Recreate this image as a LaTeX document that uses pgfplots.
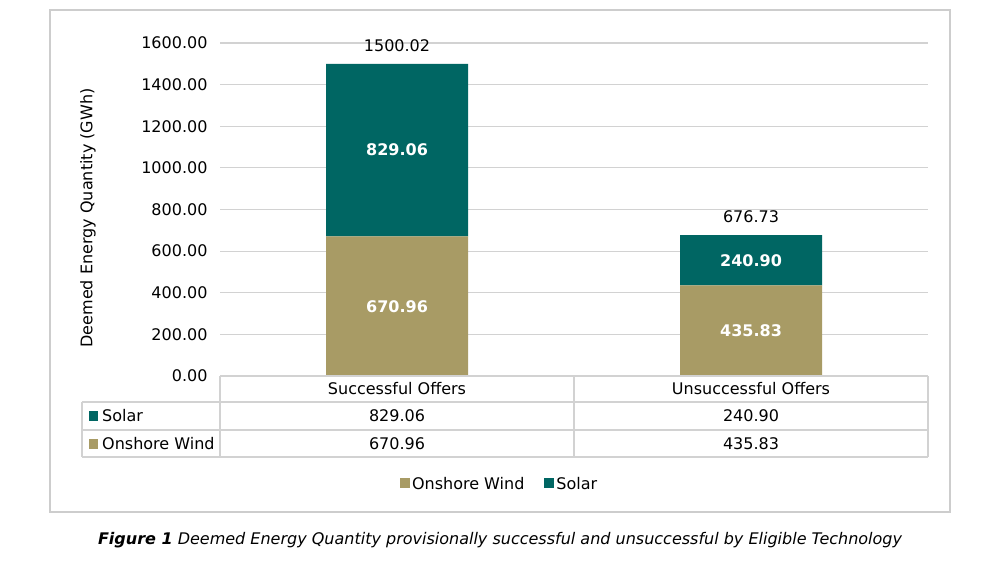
\documentclass[border=0pt]{standalone}
\usepackage{pgfplots}
\usepackage{pgfplotstable}
\usepackage{fontspec}
\pgfplotsset{compat=1.18}
\setmainfont{DejaVu Sans}

\definecolor{wind}{RGB}{168,155,101}
\definecolor{solar}{RGB}{0,102,99}
\definecolor{gridc}{RGB}{210,210,210}
\definecolor{framec}{RGB}{205,205,205}

\pgfplotstableread{
x wind solar
0 670.96 829.06
1 435.83 240.90
}\energy

\pgfkeys{/pgf/number format/twodec/.style={fixed,fixed zerofill,precision=2,1000 sep={}}}
\pgfplotsset{
  samebox/.style={
    at={(220pt,187pt)}, anchor=south west,
    scale only axis, width=708pt, height=333pt,
    xmin=-0.5, xmax=1.5, ymin=0, ymax=1600},
}

\begin{document}
\begin{tikzpicture}[x=1pt,y=1pt]
% page size and outer frame
\path[fill=white] (0,0) rectangle (1000,563);
\draw[framec,line width=1.2pt] (50,51) rectangle (950,553);

\begin{axis}[
  samebox,
  ybar stacked, bar width=142pt,
  xtick=\empty,
  ytick={0,200,...,1600},
  ymajorgrids, grid style={gridc,line width=1.2pt},
  axis line style={draw=none},
  major tick length=0pt,
  /pgf/number format/assume math mode=true,
  yticklabel={\pgfmathprintnumber[twodec]{\tick}},
  yticklabel style={font=\fontsize{16}{19}\selectfont, xshift=-9pt},
  legend style={at={(axis description cs:0.395,-0.324)}, anchor=center, draw=none,
    font=\fontsize{16}{19}\selectfont, legend columns=-1,
    /tikz/every even column/.append style={column sep=18pt}},
  legend image code/.code={\fill[#1] (0pt,-4pt) rectangle (10pt,6pt);},
]
\addplot[fill=wind, draw=none] table[x=x,y=wind]{\energy};
\addlegendentry{Onshore Wind}
\addplot[fill=solar, draw=none] table[x=x,y=solar]{\energy};
\addlegendentry{Solar}
\end{axis}

% value labels, on an overlaid axis of the same size
\begin{axis}[
  samebox, hide axis,
  /pgf/number format/assume math mode=true,
  nodes near coords={\pgfmathprintnumber[twodec]{\pgfplotspointmeta}},
]
\addplot[draw=none, mark=none, point meta=\thisrow{wind},
  nodes near coords style={anchor=center, text=white, font=\bfseries\fontsize{16}{19}\selectfont}]
  table[x=x, y expr=\thisrow{wind}/2]{\energy};
\addplot[draw=none, mark=none, point meta=\thisrow{solar},
  nodes near coords style={anchor=center, text=white, font=\bfseries\fontsize{16}{19}\selectfont}]
  table[x=x, y expr=\thisrow{wind}+\thisrow{solar}/2]{\energy};
\addplot[draw=none, mark=none, point meta={\thisrow{wind}+\thisrow{solar}},
  nodes near coords style={anchor=south, text=black, font=\fontsize{16}{19}\selectfont, yshift=9pt}]
  table[x=x, y expr=\thisrow{wind}+\thisrow{solar}]{\energy};
\end{axis}

\node[rotate=90, font=\fontsize{16}{19}\selectfont] at (88,345) {Deemed Energy Quantity (GWh)};

% data table below the axis
\begin{scope}[gridc, line width=1.2pt]
\draw (220,187) -- (928,187);
\draw (82,161) -- (928,161);
\draw (82,133) -- (928,133);
\draw (82,106) -- (928,106);
\draw (82,161) -- (82,106);
\draw (220,187) -- (220,106);
\draw (574,187) -- (574,106);
\draw (928,187) -- (928,106);
\end{scope}
\begin{scope}[every node/.style={font=\fontsize{16}{19}\selectfont, inner sep=0pt}]
\node at (397,174) {Successful Offers};
\node at (751,174) {Unsuccessful Offers};
\fill[solar] (89,142) rectangle (98,152);
\node[anchor=west] at (102,147) {Solar};
\fill[wind] (89,114) rectangle (98,124);
\node[anchor=west] at (102,119.5) {Onshore Wind};
\node at (397,147) {829.06};
\node at (751,147) {240.90};
\node at (397,119.5) {670.96};
\node at (751,119.5) {435.83};
\end{scope}

% caption
\node[font=\itshape\fontsize{16}{19}\selectfont] at (500,23)
  {\textbf{Figure 1} Deemed Energy Quantity provisionally successful and unsuccessful by Eligible Technology};
\end{tikzpicture}
\end{document}
